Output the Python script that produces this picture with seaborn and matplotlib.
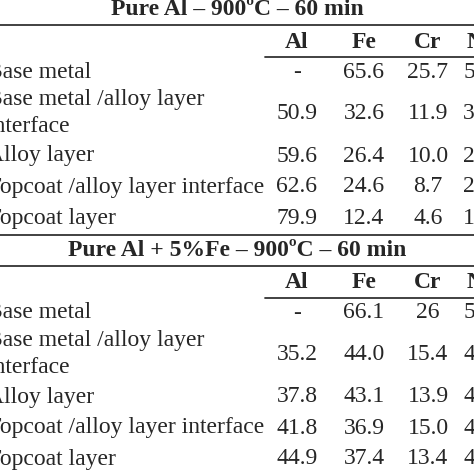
import matplotlib
matplotlib.use("Agg")
import matplotlib.pyplot as plt
import seaborn as sns

sns.set_style("white")
plt.rcParams['font.family'] = ['Liberation Serif', 'DejaVu Serif']

titles = ["Pure Al – 900ºC – 60 min", "Pure Al + 5%Fe – 900ºC – 60 min"]
elements = ["Al", "Fe", "Cr", "Ni"]
rows = ["Base metal", "Base metal /alloy layer\ninterface", "Alloy layer",
        "Topcoat /alloy layer interface", "Topcoat layer"]
vals1 = [["-", "65.6", "25.7", "5.9"], ["50.9", "32.6", "11.9", "3.6"],
         ["59.6", "26.4", "10.0", "2.6"], ["62.6", "24.6", "8.7", "2.4"],
         ["79.9", "12.4", "4.6", "1.8"]]
vals2 = [["-", "66.1", "26", "5.9"], ["35.2", "44.0", "15.4", "4.6"],
         ["37.8", "43.1", "13.9", "4.4"], ["41.8", "36.9", "15.0", "4.6"],
         ["44.9", "37.4", "13.4", "4.3"]]

fig = plt.figure(figsize=(4.74, 4.74), dpi=100)
ax = fig.add_axes([0, 0, 1, 1])
ax.set_xlim(0, 474); ax.set_ylim(474, 0); ax.axis("off")

colx = [297, 364, 428, 478]
fs = 17
for s, (tit, vals) in enumerate([(titles[0], vals1), (titles[1], vals2)]):
    off = s * 241
    ax.text(237, 9 + off, tit, ha="center", va="center", fontsize=fs, fontweight="bold")
    ax.plot([0, 474], [25 + off, 25 + off], color="#333", lw=1.3)
    for x, e in zip(colx, elements):
        ax.text(x, 42 + off, e, ha="center", va="center", fontsize=fs, fontweight="bold")
    ax.plot([265, 474], [57 + off, 57 + off], color="#333", lw=1.3)
    ys = [72, 113, 156, 187, 218]
    for y, lab, rv in zip(ys, rows, vals):
        ax.text(-13, y + off, lab, ha="left", va="center", fontsize=fs, linespacing=1.35)
        for x, v in zip(colx, rv):
            ax.text(x, y + off, v, ha="center", va="center", fontsize=fs)
ax.plot([0, 474], [235, 235], color="#333", lw=1.3)
fig.savefig("out.png", dpi=100)
